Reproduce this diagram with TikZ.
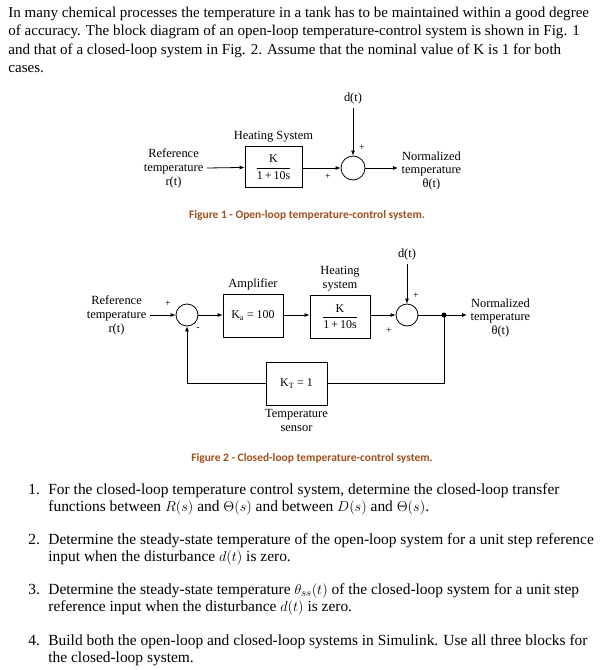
\documentclass[tikz,border=0pt]{standalone}
\usepackage{fontspec}
\setmainfont{Liberation Serif}
\newfontfamily\capfont{Carlito}
\usepackage{xcolor}
\usetikzlibrary{arrows.meta}
\definecolor{capbrown}{RGB}{160,78,28}

\begin{document}
\begin{tikzpicture}[x=1bp,y=-1bp,line width=0.8pt,>={Latex[length=5bp,width=4bp]},
  blk/.style={rectangle,draw,minimum width=60bp,minimum height=43bp,inner sep=1bp,font=\fontsize{12}{13}\selectfont},
  sumc/.style={circle,draw,minimum size=22bp,inner sep=0pt},
  lbl/.style={align=center,font=\fontsize{12.5}{14}\selectfont},
  sgn/.style={font=\fontsize{10}{10}\selectfont,inner sep=0pt},
  figcap/.style={font=\capfont\bfseries\fontsize{11.5}{13}\selectfont,text=capbrown},
  para/.style={anchor=base west,align=left,inner sep=0pt,font=\fontsize{15.1}{18.7}\selectfont},
  qtxt/.style={anchor=base west,align=left,inner sep=0pt,font=\fontsize{15.5}{17}\selectfont}]
\useasboundingbox (0,0) rectangle (603,670);

\node (P)[para] at (8,73) {In many chemical processes the temperature in a tank has to be maintained within a good degree\\
of accuracy. The block diagram of an open-loop temperature-control system is shown in Fig. 1\\
and that of a closed-loop system in Fig. 2. Assume that the nominal value of K is 1 for both\\
cases.};

\node (H1)[blk,minimum width=57bp,minimum height=41bp] at (273.5,167) {$\displaystyle\frac{\hbox{K}}{\hbox{1\,+\,10s}}$};
\node (S1)[sumc,minimum size=24bp] at (353,168) {};
\node (D1)[lbl] at (353,99) {d(t)};
\coordinate (R1) at (207,168);
\coordinate (O1) at (398,168);
\node[lbl,above] at (H1.north) {Heating System};
\node[lbl,left] at (R1) {Reference\\temperature\\r(t)};
\node[lbl,right] at ([yshift=-3bp]O1) {Normalized\\temperature\\θ(t)};
\draw[->] (R1) -- (H1);
\draw[->] (H1.east |- S1) -- (S1);
\draw[->] (D1) -- (S1);
\draw[->] (S1) -- (O1);
\node[sgn] at (328,177) {+};
\node[sgn] at (362,148) {+};
\node (C1)[figcap] at (307,215) {Figure 1 - Open-loop temperature-control system.};

\node (S2a)[sumc] at (187,315) {};
\node (A2)[blk] at (253,315.5) {K\textsubscript{a} = 100};
\node (H2)[blk] at (340,316.5) {$\displaystyle\frac{\hbox{K}}{\hbox{1\,+\,10s}}$};
\node (S2b)[sumc] at (407,315) {};
\node (D2)[lbl] at (407,255) {d(t)};
\node (T2)[blk,minimum width=61bp] at (296.5,383.5) {K\textsubscript{T} = 1};
\fill (444,315) circle (2.5bp) coordinate (B2);
\coordinate (R2) at (150,315);
\coordinate (O2) at (467,315);
\node[lbl,above] at (A2.north) {Amplifier};
\node[lbl,above] at (H2.north) {Heating\\system};
\node[lbl,below] at (T2.south) {Temperature\\sensor};
\node[lbl,left] at (R2) {Reference\\temperature\\r(t)};
\node[lbl,right] at ([yshift=-3bp]O2) {Normalized\\temperature\\θ(t)};
\draw[->] (R2) -- (S2a);
\draw[->] (S2a) -- (A2.west |- S2a);
\draw[->] (A2.east |- S2a) -- (H2.west |- S2a);
\draw[->] (H2.east |- S2b) -- (S2b);
\draw[->] (D2) -- (S2b);
\draw (S2b) -- (B2);
\draw[->] (B2) -- (O2);
\draw (B2) |- (T2);
\draw[->] (T2) -| (S2a);
\node[sgn] at (168,304) {+};
\node[sgn] at (198,329) {-};
\node[sgn] at (416,296) {+};
\node[sgn] at (389,331) {+};
\node (C2)[figcap] at (312,458) {Figure 2 - Closed-loop temperature-control system.};

\node (N1)[qtxt] at (28,494) {1.};
\node (Q1)[qtxt] at (48,511) {For the closed-loop temperature control system, determine the closed-loop transfer\\
functions between $R(s)$ and $\Theta(s)$ and between $D(s)$ and $\Theta(s)$.};
\node (N2)[qtxt] at (28,544) {2.};
\node (Q2)[qtxt] at (48,561) {Determine the steady-state temperature of the open-loop system for a unit step reference\\
input when the disturbance $d(t)$ is zero.};
\node (N3)[qtxt] at (28,594) {3.};
\node (Q3)[qtxt] at (48,611) {Determine the steady-state temperature $\theta_{ss}(t)$ of the closed-loop system for a unit step\\
reference input when the disturbance $d(t)$ is zero.};
\node (N4)[qtxt] at (28,645) {4.};
\node (Q4)[qtxt] at (48,662) {Build both the open-loop and closed-loop systems in Simulink. Use all three blocks for\\
the closed-loop system.};
\end{tikzpicture}
\end{document}
